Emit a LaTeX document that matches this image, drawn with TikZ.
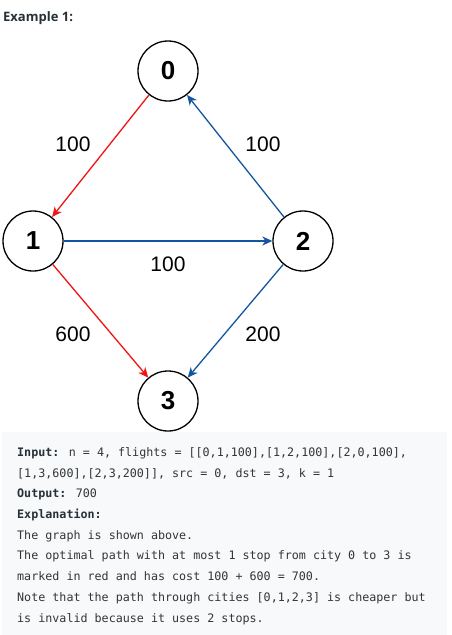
\documentclass[tikz,border=0pt]{standalone}
\usepackage{fontspec}
\setmainfont{Liberation Sans}
\newfontfamily\hdrfont{Open Sans}
\newfontfamily\codefont{DejaVu Sans Mono}
\usetikzlibrary{arrows.meta}
\definecolor{redE}{RGB}{240,20,20}
\definecolor{blueE}{RGB}{20,85,160}
\definecolor{codebg}{RGB}{247,249,250}
\definecolor{codetxt}{RGB}{50,54,57}
\definecolor{codebold}{RGB}{38,50,56}
\definecolor{hdr}{RGB}{38,50,56}
\tikzset{
  city/.style={circle, draw=black, line width=1.3pt, minimum size=60pt, inner sep=0pt, font=\bfseries\fontsize{26}{26}\selectfont},
  wlabel/.style={font=\fontsize{21}{21}\selectfont, text=black},
  redarrow/.style={draw=redE, line width=1.3pt, -{Stealth[length=10pt,width=9pt,inset=3pt]}},
  bluearrow/.style={draw=blueE, line width=1.3pt, -{Stealth[length=10pt,width=9pt,inset=3pt]}},
  codeline/.style={anchor=base west, inner sep=0pt, text=codetxt, font=\codefont\fontsize{11.7}{11.7}\selectfont}
}
\begin{document}
\begin{tikzpicture}[x=1pt,y=-1pt]
\useasboundingbox (0,0) rectangle (452,635);
\fill[white] (0,0) rectangle (452,635);
\fill[codebg] (2,432) rectangle (447,635);
\node[anchor=base west, inner sep=0pt, text=hdr, font=\hdrfont\bfseries\fontsize{13}{13}\selectfont] (hdr) at (3,21) {Example 1:};

\node[city] (c0) at (168,71) {0};
\node[city] (c1) at (33,241) {1};
\node[city] (c2) at (303,241) {2};
\node[city] (c3) at (168,401) {3};

\draw[redarrow] (c0) -- (c1);
\draw[redarrow] (c1) -- (c3);
\draw[bluearrow] (c1) -- (c2);
\draw[bluearrow] (c2) -- (c0);
\draw[bluearrow] (c2) -- (c3);

\node[wlabel] (l01) at (73,144) {100};
\node[wlabel] (l20) at (263,144) {100};
\node[wlabel] (l12) at (168,264) {100};
\node[wlabel] (l13) at (73,334) {600};
\node[wlabel] (l23) at (263,334) {200};

\node[codeline] (t1) at (17,456) {\textcolor{codebold}{\bfseries Input:} n = 4, flights = [[0,1,100],[1,2,100],[2,0,100],};
\node[codeline] (t2) at (17,477) {[1,3,600],[2,3,200]], src = 0, dst = 3, k = 1};
\node[codeline] (t3) at (17,497.5) {\textcolor{codebold}{\bfseries Output:} 700};
\node[codeline] (t4) at (17,518.5) {\textcolor{codebold}{\bfseries Explanation:}};
\node[codeline] (t5) at (17,539) {The graph is shown above.};
\node[codeline] (t6) at (17,559.5) {The optimal path with at most 1 stop from city 0 to 3 is};
\node[codeline] (t7) at (17,580) {marked in red and has cost 100 + 600 = 700.};
\node[codeline] (t8) at (17,601) {Note that the path through cities [0,1,2,3] is cheaper but};
\node[codeline] (t9) at (17,622) {is invalid because it uses 2 stops.};
\end{tikzpicture}
\end{document}
